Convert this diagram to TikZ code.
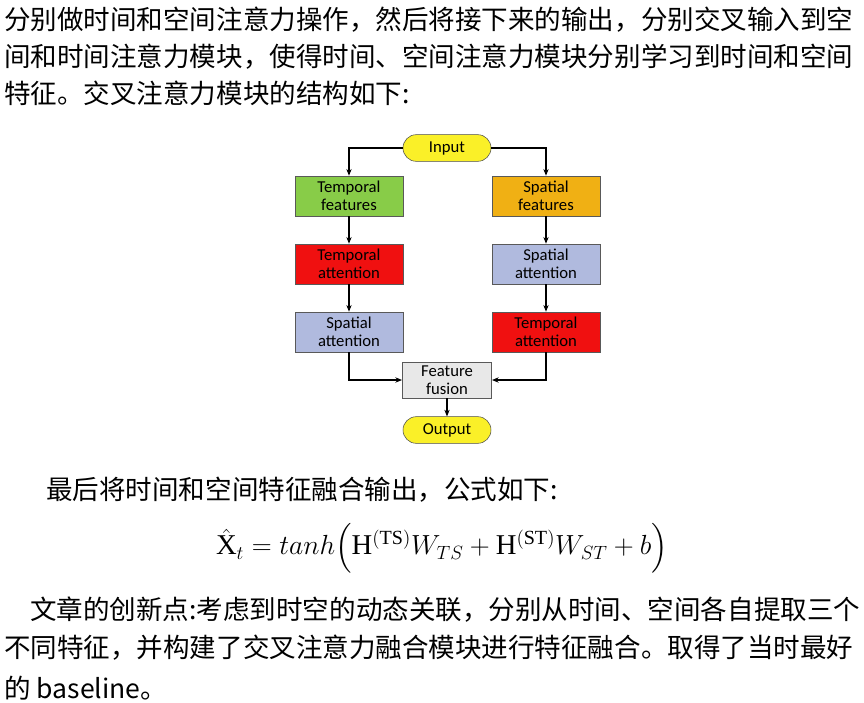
\documentclass[tikz,border=0pt]{standalone}
\usepackage{fontspec}
\usepackage{amsmath}
\setmainfont{Liberation Serif}
\newfontfamily\cjk{Noto Sans CJK SC}
\newfontfamily\boxfont{Carlito}
\usetikzlibrary{arrows.meta}
\definecolor{cgreen}{RGB}{136,204,72}
\definecolor{corange}{RGB}{240,176,20}
\definecolor{cred}{RGB}{240,16,16}
\definecolor{clav}{RGB}{176,186,222}
\definecolor{cgray}{RGB}{232,232,232}
\definecolor{cyel}{RGB}{250,240,40}
\tikzset{
 bx/.style={draw=gray!70!black,minimum width=81pt,minimum height=30pt,inner sep=0pt,align=center,font=\boxfont\fontsize{12.5}{13.5}\selectfont,line width=0.5pt},
 ov/.style={draw=gray!60!black,rounded corners=10pt,minimum width=66pt,minimum height=20pt,fill=cyel,font=\boxfont\fontsize{12.5}{14}\selectfont,inner sep=0pt},
 ar/.style={-{Stealth[length=5pt,width=4pt]},line width=0.8pt},
 tx/.style={anchor=west,inner sep=0pt,font=\cjk\fontsize{19.9}{22}\selectfont}
}
\begin{document}
\begin{tikzpicture}[x=0.75pt,y=-0.75pt]
\useasboundingbox[fill=white] (0,0) rectangle (864,703);
\node[tx] (l1) at (4,20) {分别做时间和空间注意力操作，然后将接下来的输出，分别交叉输入到空};
\node[tx] (l2) at (4,57) {间和时间注意力模块，使得时间、空间注意力模块分别学习到时间和空间};
\node[tx] (l3) at (4,93) {特征。交叉注意力模块的结构如下:};
\node[ov] (in) at (447,148) {Input};
\node[bx,fill=cgreen] (tf) at (349,196) {Temporal\\features};
\node[bx,fill=corange] (sf) at (546,196) {Spatial\\features};
\node[bx,fill=cred] (ta1) at (349,264) {Temporal\\attention};
\node[bx,fill=clav] (sa1) at (546,264) {Spatial\\attention};
\node[bx,fill=clav] (sa2) at (349,332) {Spatial\\attention};
\node[bx,fill=cred] (ta2) at (546,332) {Temporal\\attention};
\node[bx,fill=cgray,minimum width=67pt,minimum height=27pt] (ff) at (447,380) {Feature\\fusion};
\node[ov] (out) at (447,430) {Output};
\draw[ar] (in.west) -| (tf.north);
\draw[ar] (in.east) -| (sf.north);
\draw[ar] (tf) -- (ta1);
\draw[ar] (ta1) -- (sa2);
\draw[ar] (sf) -- (sa1);
\draw[ar] (sa1) -- (ta2);
\draw[ar] (sa2.south) |- (ff.west);
\draw[ar] (ta2.south) |- (ff.east);
\draw[ar] (ff) -- (out);
\node[tx] (l4) at (46,490) {最后将时间和空间特征融合输出，公式如下:};
\node[inner sep=0pt,font=\fontsize{21.5}{24}\selectfont] (eq) at (442,548) {$\hat{\mathrm{X}}_t = tanh\Bigl(\mathrm{H}^{(\mathrm{TS})}W_{TS} + \mathrm{H}^{(\mathrm{ST})}W_{ST} + b\Bigr)$};
\node[tx] (l5) at (30,610) {文章的创新点:考虑到时空的动态关联，分别从时间、空间各自提取三个};
\node[tx] (l6) at (4,648) {不同特征，并构建了交叉注意力融合模块进行特征融合。取得了当时最好};
\node[tx] (l7) at (4,688) {的 baseline。};
\end{tikzpicture}
\end{document}
